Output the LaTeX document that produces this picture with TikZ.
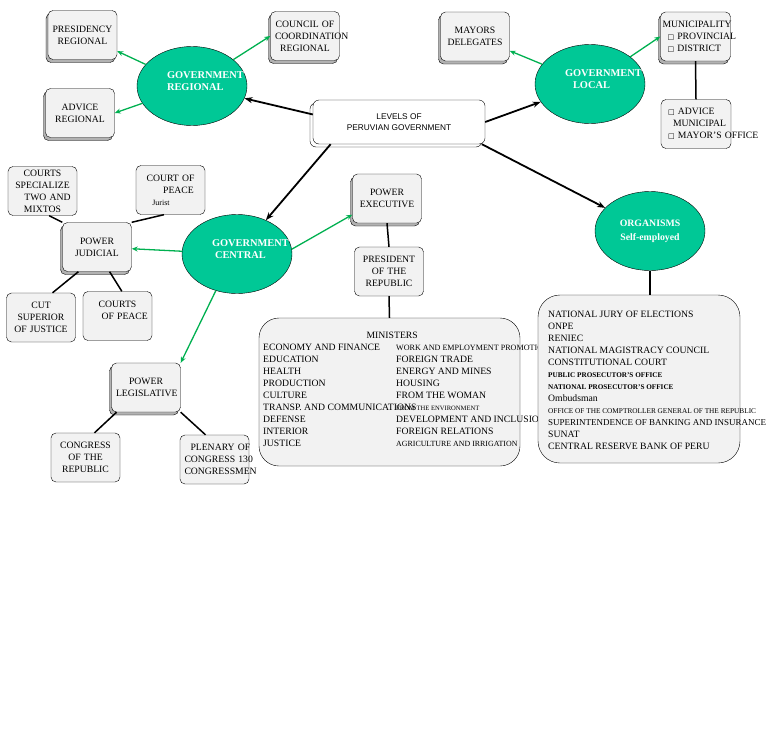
\documentclass[tikz,border=0pt]{standalone}
\usepackage{fontspec}
\setmainfont{Liberation Serif}
\newfontfamily\levelsfont{Liberation Sans}
\newfontfamily\symfont{DejaVu Sans}
\newcommand\boxmark{{\symfont\fontsize{7}{8}\selectfont □}}
\newcommand\nohyph{\hyphenpenalty=10000\exhyphenpenalty=10000\relax}
\usetikzlibrary{shapes.geometric,shadows,arrows.meta}

\definecolor{govgreen}{RGB}{0,200,150}
\definecolor{arrgreen}{RGB}{0,176,80}
\definecolor{boxgray}{RGB}{242,242,242}

\tikzset{
  box/.style={draw,rounded corners=5pt,fill=boxgray,minimum width=69pt,minimum height=49pt,
    text width=60pt,align=center,inner sep=2pt,font=\fontsize{9.7}{12}\selectfont\nohyph},
  shbox/.style={box,general shadow={shadow xshift=-2pt,shadow yshift=-3pt,fill=gray!60,draw}},
  levelbox/.style={draw,rounded corners=6pt,fill=white,minimum width=172pt,minimum height=44pt,
    copy shadow={shadow xshift=-3pt,shadow yshift=-3pt},align=center,
    font=\levelsfont\fontsize{8.3}{11}\selectfont},
  gov/.style={ellipse,draw,fill=govgreen,minimum width=110pt,minimum height=79pt,inner sep=0pt},
  govtext/.style={text=white,font=\bfseries\fontsize{10.4}{12.5}\selectfont\nohyph,text width=50pt,
    align=left,yshift=5pt},
  orgtext/.style={text=white,font=\bfseries\fontsize{9.8}{14}\selectfont,align=center},
  listbox/.style={draw,rounded corners=20pt,fill=boxgray},
  listtext/.style={anchor=north west,inner sep=0pt,font=\fontsize{9.7}{12}\selectfont},
  bkarrow/.style={-{Stealth[length=8pt,width=6pt]},line width=1.8pt},
  grarrow/.style={-{Stealth[length=6pt,width=5pt]},line width=1.3pt,arrgreen},
  link/.style={line width=1.5pt},
}

\begin{document}
\begin{tikzpicture}[x=1pt,y=-1pt]
  \useasboundingbox (0,0) rectangle (768,755);

  % centre and the four levels
  \node[levelbox] (levels) at (399,122) {LEVELS OF\\PERUVIAN GOVERNMENT};
  \node[gov,label={[govtext]center:{GOVERNMENT\\REGIONAL}}] (greg) at (192,86) {};
  \node[gov,label={[govtext]center:{GOVERNMENT\\\hspace*{8pt}LOCAL}}] (glocal) at (590,84) {};
  \node[gov,label={[govtext]center:{GOVERNMENT\\\hspace*{3pt}CENTRAL}}] (gcent) at (237,254) {};
  \node[gov,label={[orgtext]center:{ORGANISMS\\Self-employed}}] (organ) at (650,231) {};

  % regional
  \node[shbox] (presreg) at (82.5,35) {PRESIDENCY\\REGIONAL};
  \node[shbox] (advreg) at (80,113) {ADVICE\\REGIONAL};
  \node[shbox] (council) at (305,36) {COUNCIL OF\\COORDINATION\\REGIONAL};

  % local
  \node[shbox] (mayors) at (475,36.5) {MAYORS\\DELEGATES};
  \node[shbox,text width=66pt,align=left] (munic) at (695.5,36.5)
    {MUNICIPALITY\\\hspace*{5pt}\boxmark~PROVINCIAL\\\hspace*{5pt}\boxmark~DISTRICT};
  \node[box,text width=66pt,align=left] (advmun) at (696,124)
    {\hspace*{5pt}\boxmark~ADVICE\\\hspace*{10pt}MUNICIPAL\\\hspace*{5pt}\boxmark~MAYOR'S~OFFICE};

  % central: judicial
  \node[shbox] (judic) at (97,247) {POWER\\JUDICIAL};
  \node[box,inner ysep=0pt] (spec) at (42.5,191) {COURTS\\SPECIALIZE\\\hspace*{10pt}TWO~AND\\MIXTOS};
  \node[box] (jpeace) at (170.5,190)
    {COURT~OF\\\hspace*{16pt}PEACE\\\hspace*{-19pt}{\fontsize{8}{10}\selectfont Jurist}};
  \node[box] (superior) at (41,317.5) {CUT\\SUPERIOR\\OF~JUSTICE};
  \node[box] (cpeace) at (117.5,316) {COURTS\\\hspace*{14pt}OF~PEACE\\\mbox{}};

  % central: executive
  \node[shbox] (exec) at (387,198.5) {POWER\\EXECUTIVE};
  \node[box] (pres) at (389,271.5) {PRESIDENT\\OF THE\\REPUBLIC};
  \node[listbox,minimum width=261pt,minimum height=148pt] (minis) at (389.5,392) {};
  \node[listtext] (minlist) at (263,330) {\begin{tabular}{@{}l@{}l@{}}
    \multicolumn{2}{@{}l@{}}{\makebox[258pt]{MINISTERS}}\\
    \makebox[133pt][l]{ECONOMY AND FINANCE}&{\fontsize{8.1}{10}\selectfont WORK AND EMPLOYMENT PROMOTION}\\
    EDUCATION&FOREIGN TRADE\\
    HEALTH&ENERGY AND MINES\\
    PRODUCTION&HOUSING\\
    CULTURE&FROM THE WOMAN\\
    \makebox[133pt][l]{TRANSP. AND COMMUNICATIONS}&{\fontsize{6.6}{8}\selectfont FROM THE ENVIRONMENT}\\
    DEFENSE&DEVELOPMENT AND INCLUSION\\
    INTERIOR&FOREIGN RELATIONS\\
    JUSTICE&{\fontsize{7.9}{10}\selectfont AGRICULTURE AND IRRIGATION}
  \end{tabular}};

  % central: legislative
  \node[shbox] (legis) at (146,387.5) {POWER\\LEGISLATIVE};
  \node[box] (congress) at (85.5,457.5) {CONGRESS\\OF THE\\REPUBLIC};
  \node[box] (plenary) at (214.5,459.5) {\hspace*{6pt}PLENARY~OF\\CONGRESS~130\\CONGRESSMEN};

  % organisms
  \node[listbox,rounded corners=22pt,minimum width=202pt,minimum height=168pt] (orgbox) at (639,379) {};
  \node[listtext] (orglist) at (548,309) {\begin{tabular}{@{}l@{}}
    NATIONAL JURY OF ELECTIONS\\
    ONPE\\
    RENIEC\\
    NATIONAL MAGISTRACY COUNCIL\\
    CONSTITUTIONAL COURT\\
    {\bfseries\fontsize{7.2}{9}\selectfont PUBLIC PROSECUTOR'S OFFICE}\\
    {\bfseries\fontsize{7.2}{9}\selectfont NATIONAL PROSECUTOR'S OFFICE}\\
    Ombudsman\\
    {\fontsize{7.3}{9}\selectfont OFFICE OF THE COMPTROLLER GENERAL OF THE REPUBLIC}\\
    {\fontsize{9}{12}\selectfont SUPERINTENDENCE OF BANKING AND INSURANCE}\\
    SUNAT\\
    CENTRAL RESERVE BANK OF PERU
  \end{tabular}};

  % arrows
  \draw[bkarrow] (levels.175) -- (greg);
  \draw[bkarrow] (levels.east) -- (glocal);
  \draw[bkarrow] (levels.198) -- (gcent);
  \draw[bkarrow] (levels.-15) -- (organ);

  \draw[grarrow] (greg) -- (presreg);
  \draw[grarrow] (greg) -- (advreg.east);
  \draw[grarrow] (greg) -- (council.west);
  \draw[grarrow] (glocal) -- (mayors);
  \draw[grarrow] (glocal) -- (munic.west);
  \draw[grarrow] (gcent) -- (judic);
  \draw[grarrow] (gcent.5) -- (exec.205);
  \draw[grarrow] (gcent.-120) -- (legis.north east);

  % plain links
  \draw[link] (munic.south) -- (advmun.north);
  \draw[link] (exec.south) -- (pres.north);
  \draw[link] (pres.south) -- (minis.north);
  \draw[link] (organ.south) -- (organ.south |- orgbox.north);
  \draw[link] (spec.-75) -- (judic.north west);
  \draw[link] (jpeace.-105) -- (judic.north east);
  \draw[link] (judic.-127) -- (superior.65);
  \draw[link] (judic.-63) -- (cpeace.80);
  \draw[link] (legis.-140) -- (congress.70);
  \draw[link] (legis.south east) -- (plenary.110);
\end{tikzpicture}
\end{document}
